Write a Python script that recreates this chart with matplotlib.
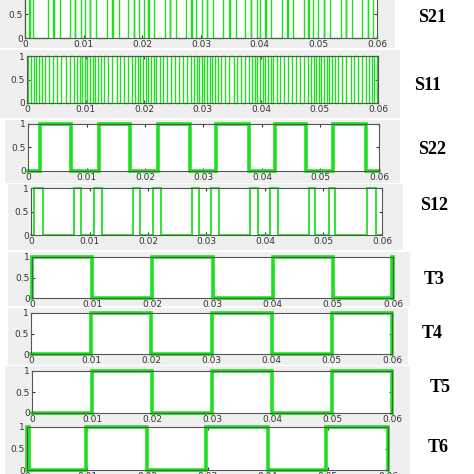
import matplotlib.pyplot as plt
from matplotlib.patches import Rectangle

W = H = 474

names = ["S21", "S11", "S22", "S12", "T3", "T4", "T5", "T6"]

# on-intervals (seconds)
s21_on = [(0.0, 0.0007), (0.0008, 0.0013), (0.0039, 0.0048), (0.0049, 0.0059),
          (0.0077, 0.0085), (0.0086, 0.0095), (0.0102, 0.0110), (0.0111, 0.0121),
          (0.0139, 0.0149), (0.0150, 0.0161), (0.0176, 0.0185), (0.0186, 0.0195),
          (0.0202, 0.0210), (0.0211, 0.0220), (0.0238, 0.0247), (0.0248, 0.0258),
          (0.0275, 0.0283), (0.0284, 0.0292), (0.0301, 0.0310), (0.0311, 0.0320),
          (0.0338, 0.0348), (0.0349, 0.0360), (0.0375, 0.0385), (0.0386, 0.0395),
          (0.0401, 0.0409), (0.0410, 0.0420), (0.0438, 0.0447), (0.0448, 0.0457),
          (0.0475, 0.0483), (0.0484, 0.0491), (0.0500, 0.0509), (0.0510, 0.0520),
          (0.0538, 0.0547), (0.0548, 0.0557), (0.0575, 0.0584), (0.0585, 0.0594)]
s11_on = [(0.0002, 0.0006), (0.0012, 0.0016), (0.0020, 0.0025), (0.0030, 0.0037),
          (0.0045, 0.0052), (0.0058, 0.0066), (0.0073, 0.0080), (0.0085, 0.0090),
          (0.0094, 0.0099), (0.0103, 0.0108), (0.0112, 0.0117), (0.0121, 0.0127),
          (0.0132, 0.0139), (0.0146, 0.0153), (0.0159, 0.0166), (0.0173, 0.0180),
          (0.0185, 0.0190), (0.0194, 0.0199), (0.0203, 0.0207), (0.0212, 0.0217),
          (0.0221, 0.0227), (0.0232, 0.0239), (0.0246, 0.0253), (0.0259, 0.0266),
          (0.0273, 0.0280), (0.0285, 0.0290), (0.0294, 0.0299), (0.0303, 0.0307),
          (0.0312, 0.0317), (0.0321, 0.0327), (0.0332, 0.0339), (0.0346, 0.0353),
          (0.0359, 0.0366), (0.0373, 0.0380), (0.0385, 0.0390), (0.0394, 0.0399),
          (0.0403, 0.0407), (0.0412, 0.0417), (0.0421, 0.0427), (0.0432, 0.0439),
          (0.0446, 0.0453), (0.0459, 0.0466), (0.0473, 0.0480), (0.0485, 0.0490),
          (0.0494, 0.0499), (0.0503, 0.0507), (0.0512, 0.0517), (0.0521, 0.0527),
          (0.0532, 0.0539), (0.0546, 0.0553), (0.0559, 0.0566), (0.0573, 0.0580),
          (0.0585, 0.0590), (0.0594, 0.0599)]
s22_on = [(0.0021, 0.0074), (0.0122, 0.0175), (0.0222, 0.0277),
          (0.0322, 0.0377), (0.0422, 0.0475), (0.0522, 0.0577)]
s12_on = [(0.0005, 0.0021), (0.0074, 0.0086), (0.0107, 0.0121), (0.0174, 0.0187),
          (0.0208, 0.0222), (0.0275, 0.0288), (0.0308, 0.0322), (0.0375, 0.0388),
          (0.0408, 0.0422), (0.0475, 0.0486), (0.0509, 0.0520), (0.0575, 0.0589)]
t3_on = [(0.0, 0.0100), (0.0200, 0.0300), (0.0400, 0.0500), (0.0599, 0.0600)]
t4_on = [(0.0100, 0.0200), (0.0300, 0.0400), (0.0500, 0.0600)]
t5_on = [(0.0100, 0.0200), (0.0300, 0.0400), (0.0500, 0.0600)]
t6_on = [(0.0, 0.0003), (0.0098, 0.0200), (0.0297, 0.0400), (0.0497, 0.0600)]
series = [s21_on, s11_on, s22_on, s12_on, t3_on, t4_on, t5_on, t6_on]

# layout in pixels: gray panel box, axes box, label position, line width
bgs = [(0, -5, 395, 48), (0, 50, 400, 118), (5, 120, 400, 183), (8, 184, 403, 250),
       (8, 252, 410, 306), (8, 308, 408, 365), (5, 366, 410, 425), (5, 422, 410, 474)]
axs_px = [(25, -10, 377, 38), (27, 56, 378, 103), (28, 124, 379, 171), (31, 188, 382, 235),
          (32, 257, 393, 298), (31, 313, 392, 354), (32, 371, 392, 413), (27, 427, 388, 470)]
label_pos = [(432, 17), (428, 86), (432, 150), (434, 206), (434, 280), (432, 334), (440, 388), (438, 448)]
lws = [1.0, 1.0, 2.6, 1.3, 2.6, 2.6, 2.6, 2.6]

fig = plt.figure(figsize=(4.74, 4.74), dpi=100)
fig.patch.set_facecolor("white")

for (bx0, by0, bx1, by1) in bgs:
    fig.patches.append(Rectangle((bx0 / W, 1 - by1 / H), (bx1 - bx0) / W, (by1 - by0) / H,
                                 transform=fig.transFigure, facecolor="#efefef",
                                 edgecolor="none", zorder=-10))


def waveform(on):
    xs, ys = [0.0], [0.0]
    for a, b in on:
        xs += [a, a, b, b]
        ys += [0, 1, 1, 0]
    xs.append(0.06)
    ys.append(0)
    return xs, ys


for i, name in enumerate(names):
    x0, yt, x1, yb = axs_px[i]
    ax = fig.add_axes([x0 / W, 1 - yb / H, (x1 - x0) / W, (yb - yt) / H])
    ax.set_zorder(5)
    xs, ys = waveform(series[i])
    ax.plot(xs, ys, color="#1fe01f", lw=lws[i], solid_joinstyle="miter", clip_on=False)
    ax.set_xlim(0, 0.06)
    ax.set_ylim(0, 1)
    ax.set_xticks([0, 0.01, 0.02, 0.03, 0.04, 0.05, 0.06])
    ax.set_xticklabels(["0", "0.01", "0.02", "0.03", "0.04", "0.05", "0.06"])
    ax.set_yticks([0, 0.5, 1])
    ax.set_yticklabels(["0", "0.5", "1"])
    ax.tick_params(direction="in", length=2, labelsize=6.5, pad=1.5,
                   top=True, right=True, colors="#333333")
    for sp in ax.spines.values():
        sp.set_color("#555555")
        sp.set_linewidth(0.8)
    lx, ly = label_pos[i]
    fig.text(lx / W, 1 - ly / H, name, ha="center", va="center", zorder=6,
             fontsize=13, fontweight="bold", family="Liberation Serif")

fig.savefig("out.png", dpi=100)
